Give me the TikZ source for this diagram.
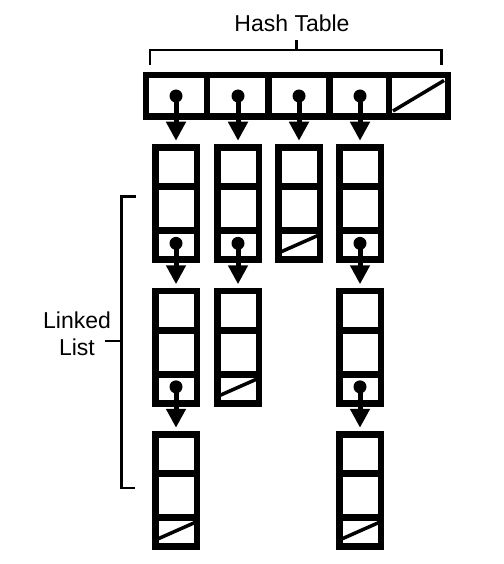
\documentclass[tikz,border=0pt]{standalone}
\usepackage{fontspec}
\setmainfont{Liberation Sans}
\usetikzlibrary{arrows.meta}
\begin{document}
\begin{tikzpicture}[x=1pt,y=-1pt,
  cellbox/.style={draw, line width=6.7pt, minimum width=41.7pt, minimum height=112.3pt, inner sep=0pt},
  tablebox/.style={draw, line width=6.7pt, minimum width=302pt, minimum height=41.7pt, inner sep=0pt},
  divider/.style={line width=6.7pt},
  nullslash/.style={line width=3.5pt},
  ptr/.style={circle, fill, inner sep=0pt, minimum size=13pt},
  arr/.style={line width=5pt, -{Triangle[length=19pt,width=19pt]}},
  bracket/.style={line width=2.8pt},
  lbl/.style={font=\fontsize{23}{27}\selectfont, inner sep=0pt, anchor=base}]
\useasboundingbox (0,0) rectangle (503,564);

% Hash table
\node[tablebox] (ht) at (297,95.85) {};
\foreach \xx in {207,268.5,329.5,389}
  \draw[divider] (\xx,75) -- (\xx,116.7);
\draw[nullslash] (393,111) -- (444,80.5);

% bracket and label for hash table
\node[lbl] (htl) at (292,31.7) {Hash Table};
\coordinate (hb1) at (150,65);
\coordinate (hb2) at (441.7,65);
\coordinate (hbm) at (296.7,40);
\draw[bracket] (hb1) -- (150,50) -- (441.7,50) -- (hb2);
\draw[bracket] (296.7,50) -- (hbm);

% list boxes
\foreach \name/\xx/\yy in {a1/176/203.65, a2/176/347.15, a3/176/490.65,
                           b1/238/203.65, b2/238/347.15,
                           c1/299/203.65,
                           d1/360/203.65, d2/360/347.15, d3/360/490.65} {
  \node[cellbox] (\name) at (\xx,\yy) {};
  \draw[divider] ([yshift=-42.5pt]\name.north west) -- ([yshift=-42.5pt]\name.north east);
  \draw[divider] ([yshift=-86.5pt]\name.north west) -- ([yshift=-86.5pt]\name.north east);
}

% null slashes
\foreach \name in {c1,b2,a3,d3}
  \draw[nullslash] ([xshift=5.5pt,yshift=-108pt]\name.north west) -- ([xshift=-4.5pt,yshift=-91pt]\name.north east);

% pointers from the hash table
\foreach \xx/\tgt [count=\i] in {176/a1,238/b1,299/c1,360/d1} {
  \node[ptr] (h\i) at (\xx,96) {};
  \draw[arr] (h\i.center) -- ([yshift=3.4pt]\tgt.north);
}

% pointers between list nodes
\foreach \src/\tgt in {a1/a2,a2/a3,b1/b2,d1/d2,d2/d3} {
  \node[ptr] (p\src) at ([yshift=-99.2pt]\src.north) {};
  \draw[arr] (p\src.center) -- ([yshift=3.4pt]\tgt.north);
}

% linked list bracket
\coordinate (lb1) at (136,196.7);
\coordinate (lb2) at (135,488);
\coordinate (lbm) at (105,341);
\draw[bracket] (lb1) -- (121.7,196.7) -- (121.7,488) -- (lb2);
\draw[bracket] (121.7,341) -- (lbm);
\node[lbl] (ll1) at (77,328.3) {Linked};
\node[lbl] (ll2) at (77,355) {List};
\end{tikzpicture}
\end{document}
